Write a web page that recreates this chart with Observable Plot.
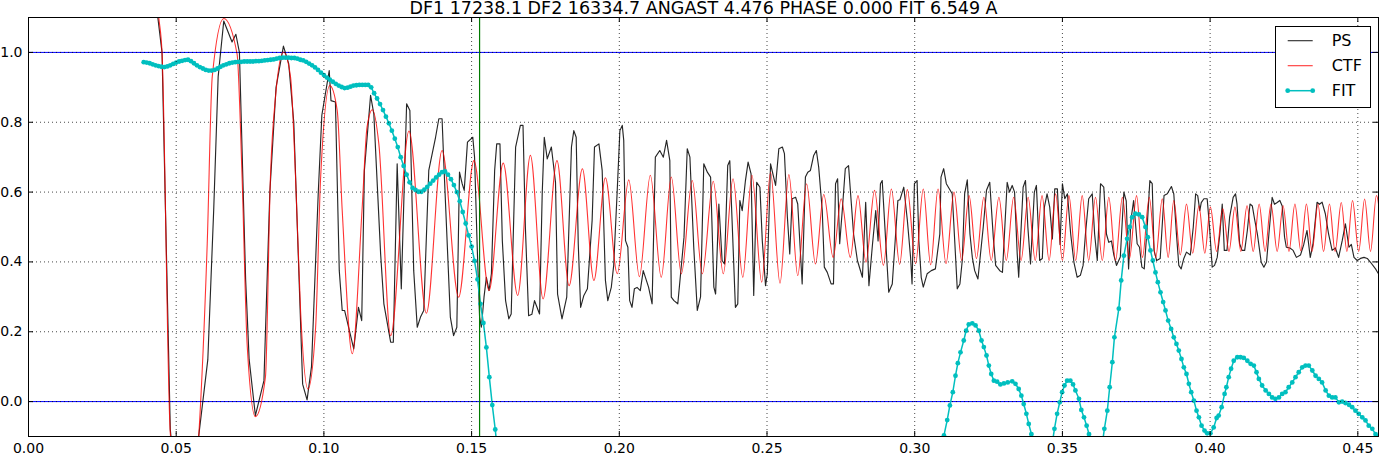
<!DOCTYPE html>
<html><head><meta charset="utf-8">
<script src="https://cdn.jsdelivr.net/npm/d3@7"></script>
<script src="https://cdn.jsdelivr.net/npm/@observablehq/plot@0.6"></script>
<style>
body{margin:0;background:#fff;}
#wrap{position:relative;width:1380px;height:456px;font-family:"DejaVu Sans",sans-serif;background:#fff;}
</style></head><body><div id="wrap"></div>
<script>
const title = "DF1 17238.1 DF2 16334.7 ANGAST 4.476 PHASE 0.000 FIT 6.549 A";
const seriesNames = ["PS", "CTF", "FIT"];
const xTicks = [0, 0.05, 0.10, 0.15, 0.20, 0.25, 0.30, 0.35, 0.40, 0.45];
const yTicks = [0, 0.2, 0.4, 0.6, 0.8, 1.0];
const refLines = [0, 1];
const resLimit = [0.1527];

const psSeries = [
[0.0389,1.50],[0.0435,1.12],[0.0452,1.00],[0.0480,-0.08],[0.0487,-0.14],[0.0532,-0.40],[0.0568,-0.16],[0.0576,-0.10],
[0.0607,0.12],[0.0627,0.55],[0.0642,0.93],[0.0661,1.09],[0.0689,1.03],[0.0702,1.052],[0.0714,1.00],[0.0735,0.35],
[0.0747,0.12],[0.0768,-0.04],[0.0797,0.06],[0.0817,0.60],[0.0838,0.90],[0.0863,1.018],[0.0881,0.967],[0.0898,0.80],
[0.0918,0.30],[0.0928,0.05],[0.0943,0.005],[0.0958,0.10],[0.0981,0.60],[0.0993,0.82],[0.1018,0.948],[0.1024,0.862],
[0.1039,0.858],[0.1052,0.375],[0.1062,0.261],[0.1070,0.261],[0.1101,0.151],[0.1117,0.27],[0.1128,0.232],[0.1137,0.662],
[0.1158,0.877],[0.1169,0.824],[0.1192,0.423],[0.1203,0.28],[0.1226,0.17],[0.1235,0.17],[0.1248,0.681],[0.1262,0.323],
[0.1280,0.853],[0.1291,0.834],[0.1304,0.375],[0.1316,0.213],[0.1327,0.242],[0.1338,0.261],[0.1355,0.662],[0.1378,0.757],
[0.1389,0.81],[0.1400,0.81],[0.1406,0.681],[0.1428,0.242],[0.1439,0.189],[0.1450,0.213],[0.1459,0.657],[0.1468,0.624],
[0.1475,0.605],[0.1486,0.743],[0.1504,0.757],[0.1510,0.70],[0.1519,0.442],[0.1527,0.242],[0.1533,0.213],[0.1542,0.299],
[0.1550,0.356],[0.1559,0.318],[0.1567,0.366],[0.1578,0.662],[0.1585,0.738],[0.1596,0.738],[0.1604,0.461],[0.1615,0.289],
[0.1626,0.237],[0.1634,0.251],[0.1649,0.729],[0.1665,0.791],[0.1674,0.791],[0.1682,0.50],[0.1693,0.246],[0.1704,0.25],
[0.1713,0.289],[0.1730,0.251],[0.1739,0.595],[0.1746,0.757],[0.1756,0.695],[0.1770,0.729],[0.1784,0.628],[0.1791,0.308],
[0.1806,0.237],[0.1822,0.299],[0.1838,0.729],[0.1846,0.776],[0.1854,0.757],[0.1861,0.452],[0.1869,0.27],[0.1880,0.304],
[0.1892,0.323],[0.1908,0.519],[0.1916,0.729],[0.1931,0.738],[0.1942,0.662],[0.1953,0.347],[0.1961,0.289],[0.1973,0.328],
[0.1981,0.39],[0.1993,0.605],[0.2002,0.776],[0.2010,0.791],[0.2015,0.748],[0.2021,0.461],[0.2029,0.442],[0.2035,0.289],
[0.2043,0.27],[0.2051,0.323],[0.2060,0.327],[0.2071,0.318],[0.2081,0.375],[0.2099,0.328],[0.2111,0.28],[0.2122,0.70],
[0.2137,0.719],[0.2149,0.70],[0.2160,0.748],[0.2171,0.69],[0.2176,0.299],[0.2185,0.289],[0.2198,0.28],[0.2219,0.471],
[0.2230,0.724],[0.2239,0.70],[0.2252,0.442],[0.2264,0.261],[0.2275,0.30],[0.2286,0.681],[0.2298,0.657],[0.2309,0.643],
[0.2320,0.328],[0.2326,0.308],[0.2337,0.566],[0.2348,0.404],[0.2356,0.394],[0.2367,0.676],[0.2374,0.69],[0.2393,0.27],
[0.2401,0.28],[0.2408,0.576],[0.2416,0.547],[0.2427,0.633],[0.2436,0.686],[0.2446,0.652],[0.2455,0.304],[0.2465,0.628],
[0.2476,0.614],[0.2484,0.461],[0.2495,0.332],[0.2501,0.366],[0.2512,0.681],[0.2529,0.619],[0.2540,0.724],[0.2552,0.729],
[0.2559,0.71],[0.2569,0.528],[0.2577,0.423],[0.2585,0.581],[0.2597,0.585],[0.2604,0.566],[0.2619,0.337],[0.2630,0.643],
[0.2638,0.657],[0.2647,0.662],[0.2658,0.705],[0.2667,0.719],[0.2675,0.671],[0.2687,0.547],[0.2694,0.385],[0.2704,0.37],
[0.2717,0.337],[0.2725,0.337],[0.2732,0.624],[0.2739,0.638],[0.2746,0.452],[0.2755,0.55],[0.2765,0.667],[0.2776,0.676],
[0.2793,0.48],[0.2806,0.404],[0.2823,0.356],[0.2834,0.571],[0.2845,0.332],[0.2857,0.45],[0.2868,0.547],[0.2876,0.46],
[0.2884,0.624],[0.2890,0.633],[0.2901,0.471],[0.2912,0.313],[0.2924,0.337],[0.2933,0.45],[0.2943,0.576],[0.2950,0.578],
[0.2963,0.614],[0.2975,0.52],[0.2986,0.413],[0.2991,0.337],[0.2999,0.624],[0.3008,0.633],[0.3014,0.461],[0.3022,0.356],
[0.3029,0.328],[0.3042,0.366],[0.3056,0.375],[0.3070,0.38],[0.3085,0.48],[0.3089,0.643],[0.3098,0.667],[0.3107,0.624],
[0.3127,0.595],[0.3144,0.323],[0.3153,0.337],[0.3161,0.404],[0.3169,0.595],[0.3178,0.635],[0.3187,0.48],[0.3195,0.413],
[0.3203,0.375],[0.3214,0.351],[0.3232,0.50],[0.3243,0.605],[0.3254,0.628],[0.3266,0.471],[0.3274,0.39],[0.3288,0.375],
[0.3297,0.37],[0.3313,0.628],[0.3321,0.60],[0.3330,0.619],[0.3338,0.60],[0.3347,0.423],[0.3352,0.356],[0.3367,0.614],
[0.3375,0.633],[0.3383,0.50],[0.3392,0.394],[0.3405,0.60],[0.3412,0.619],[0.3423,0.404],[0.3432,0.41],[0.3439,0.557],
[0.3448,0.595],[0.3457,0.557],[0.3466,0.466],[0.3474,0.609],[0.3483,0.609],[0.3492,0.45],[0.3500,0.624],[0.3508,0.581],
[0.3517,0.595],[0.3528,0.48],[0.3539,0.399],[0.3550,0.356],[0.3561,0.362],[0.3570,0.39],[0.3578,0.48],[0.3589,0.581],
[0.3601,0.595],[0.3609,0.48],[0.3618,0.404],[0.3629,0.624],[0.3640,0.614],[0.3649,0.48],[0.3657,0.456],[0.3666,0.46],
[0.3674,0.42],[0.3683,0.39],[0.3696,0.414],[0.3708,0.60],[0.3716,0.575],[0.3724,0.38],[0.3732,0.52],[0.3741,0.576],
[0.3753,0.452],[0.3761,0.442],[0.3769,0.385],[0.3777,0.38],[0.3787,0.50],[0.3796,0.633],[0.3804,0.624],[0.3810,0.433],
[0.3819,0.404],[0.3831,0.41],[0.3844,0.59],[0.3855,0.595],[0.3869,0.616],[0.3877,0.595],[0.3886,0.48],[0.3894,0.39],
[0.3902,0.38],[0.3911,0.41],[0.3920,0.428],[0.3933,0.42],[0.3943,0.50],[0.3951,0.595],[0.3958,0.59],[0.3965,0.547],
[0.3970,0.57],[0.3979,0.581],[0.3990,0.581],[0.3998,0.50],[0.4007,0.385],[0.4015,0.39],[0.4024,0.413],[0.4033,0.48],
[0.4041,0.566],[0.4048,0.433],[0.4057,0.433],[0.4066,0.528],[0.4078,0.585],[0.4086,0.595],[0.4091,0.566],[0.4100,0.452],
[0.4108,0.433],[0.4117,0.433],[0.4126,0.49],[0.4135,0.566],[0.4143,0.56],[0.4151,0.52],[0.4160,0.48],[0.4173,0.399],
[0.4182,0.385],[0.4191,0.40],[0.4199,0.48],[0.4210,0.585],[0.4218,0.565],[0.4227,0.57],[0.4236,0.576],[0.4244,0.56],
[0.4252,0.471],[0.4258,0.442],[0.4270,0.44],[0.4281,0.433],[0.4292,0.413],[0.4306,0.42],[0.4317,0.45],[0.4328,0.49],
[0.4339,0.413],[0.4348,0.45],[0.4362,0.571],[0.4370,0.565],[0.4379,0.571],[0.4390,0.538],[0.4401,0.48],[0.4413,0.433],
[0.4424,0.44],[0.4435,0.413],[0.4447,0.46],[0.4458,0.509],[0.4470,0.442],[0.4478,0.45],[0.4487,0.413],[0.4498,0.404],
[0.4509,0.41],[0.4521,0.413],[0.4532,0.41],[0.4543,0.399],[0.4560,0.38],[0.4577,0.356]
];

const ctfSeries = [
[0.0389,1.40],[0.0441,1.10],[0.0452,1.00],[0.0480,-0.09],[0.0534,-0.40],[0.0577,-0.09],[0.0605,0.452],[0.0622,0.93],
[0.0661,1.097],[0.0706,0.996],[0.0723,0.643],[0.0740,0.166],[0.0768,-0.043],[0.0802,0.07],[0.0819,0.643],[0.0837,0.88],
[0.0863,1.001],[0.0887,0.93],[0.0904,0.643],[0.0921,0.26],[0.0946,0.036],[0.0972,0.213],[0.0989,0.643],[0.1020,0.905],
[0.1045,0.834],[0.1062,0.547],[0.1096,0.137],[0.1129,0.547],[0.1146,0.786],[0.1164,0.836],[0.1186,0.738],[0.1226,0.189],
[0.1288,0.775],[0.1347,0.253],[0.1400,0.719],[0.1456,0.299],[0.1508,0.69],[0.1559,0.318],[0.1607,0.683],[0.1656,0.304],
[0.1699,0.705],[0.1742,0.294],[0.1789,0.69],[0.1830,0.332],[0.1875,0.667],[0.1914,0.347],[0.1953,0.641],[0.1993,0.366],
[0.2032,0.635],[0.2068,0.358],[0.2105,0.648],[0.2142,0.356],[0.2176,0.643],[0.2210,0.366],[0.2247,0.633],[0.2281,0.366],
[0.2318,0.631],[0.2352,0.366],[0.2385,0.638],[0.2418,0.356],[0.2449,0.648],[0.2482,0.342],[0.2512,0.657],[0.2544,0.339],
[0.2574,0.65],[0.2604,0.361],[0.2634,0.624],[0.2664,0.394],[0.2692,0.593],[0.2724,0.413],[0.2751,0.581],[0.2782,0.413],
[0.2808,0.59],[0.2835,0.399],[0.2864,0.605],[0.2894,0.39],[0.2921,0.609],[0.2949,0.393],[0.2975,0.607],[0.3003,0.395],
[0.3029,0.609],[0.3054,0.392],[0.3079,0.609],[0.3106,0.395],[0.3133,0.60],[0.3159,0.404],[0.3184,0.59],[0.3209,0.41],
[0.3234,0.585],[0.3259,0.404],[0.3285,0.585],[0.3310,0.404],[0.3335,0.585],[0.3360,0.404],[0.3384,0.585],[0.3408,0.404],
[0.3431,0.59],[0.3455,0.404],[0.3477,0.595],[0.3500,0.404],[0.3522,0.59],[0.3545,0.404],[0.3567,0.59],[0.3589,0.404],
[0.3612,0.585],[0.3635,0.404],[0.3657,0.585],[0.3680,0.404],[0.3703,0.585],[0.3727,0.41],[0.3751,0.59],[0.3771,0.413],
[0.3794,0.585],[0.3816,0.413],[0.3838,0.581],[0.3858,0.413],[0.3877,0.576],[0.3899,0.42],[0.3920,0.566],[0.3941,0.425],
[0.3962,0.561],[0.3982,0.425],[0.4001,0.557],[0.4022,0.43],[0.4043,0.552],[0.4064,0.43],[0.4084,0.557],[0.4104,0.43],
[0.4125,0.561],[0.4146,0.43],[0.4166,0.566],[0.4186,0.43],[0.4206,0.566],[0.4227,0.43],[0.4247,0.561],[0.4267,0.43],
[0.4287,0.566],[0.4307,0.432],[0.4326,0.566],[0.4345,0.43],[0.4365,0.566],[0.4384,0.43],[0.4404,0.566],[0.4423,0.43],
[0.4444,0.57],[0.4463,0.43],[0.4482,0.576],[0.4503,0.43],[0.4523,0.58],[0.4543,0.43],[0.4563,0.59],[0.4584,0.43]
];

const fitLow = [
[0.039,0.972],[0.040,0.971],[0.041,0.969],[0.042,0.966],[0.043,0.963],[0.044,0.961],[0.045,0.959],[0.046,0.958],
[0.047,0.960],[0.048,0.963],[0.049,0.967],[0.050,0.971],[0.051,0.974],[0.052,0.976],[0.053,0.978],[0.054,0.979],
[0.055,0.975],[0.056,0.969],[0.057,0.963],[0.058,0.958],[0.059,0.954],[0.060,0.950],[0.061,0.948],[0.062,0.948],
[0.063,0.950],[0.064,0.954],[0.065,0.959],[0.066,0.963],[0.067,0.966],[0.068,0.969],[0.069,0.971],[0.070,0.972],
[0.071,0.973],[0.072,0.973],[0.073,0.974],[0.074,0.974],[0.075,0.974],[0.076,0.974],[0.077,0.975],[0.078,0.975],
[0.079,0.976],[0.080,0.977],[0.081,0.978],[0.082,0.979],[0.083,0.980],[0.084,0.982],[0.085,0.984],[0.086,0.985],
[0.087,0.985],[0.088,0.985],[0.089,0.984],[0.090,0.984],[0.091,0.982],[0.092,0.979],[0.093,0.977],[0.094,0.973],
[0.095,0.968],[0.096,0.963],[0.097,0.957],[0.098,0.950],[0.099,0.942],[0.100,0.935],[0.101,0.928],[0.102,0.922],
[0.103,0.916],[0.104,0.910],[0.105,0.905],[0.106,0.901],[0.107,0.898],[0.108,0.899],[0.109,0.902],[0.110,0.905],
[0.111,0.906],[0.112,0.907],[0.113,0.907],[0.114,0.907],[0.115,0.907],[0.116,0.900],[0.117,0.883],[0.118,0.868],
[0.119,0.852],[0.120,0.835],[0.121,0.816],[0.122,0.797],[0.123,0.776],[0.124,0.753],[0.125,0.729],[0.126,0.700],
[0.127,0.675],[0.128,0.650],[0.129,0.628],[0.130,0.612],[0.131,0.606],[0.132,0.601],[0.133,0.601],[0.134,0.607],
[0.135,0.615],[0.136,0.624],[0.137,0.633],[0.138,0.642],[0.139,0.650],[0.140,0.657],[0.141,0.659],[0.142,0.650],
[0.143,0.637],[0.144,0.620],[0.145,0.600],[0.146,0.574],[0.147,0.543],[0.148,0.510],[0.149,0.476],[0.150,0.444],
[0.151,0.403],[0.152,0.350],[0.153,0.280],[0.154,0.225],[0.155,0.155],[0.156,0.070],[0.157,-0.010],[0.158,-0.080],
[0.159,-0.160]
];

const fitHigh = [
[0.3090,-0.14],[0.3099,-0.097],[0.3110,-0.053],[0.3119,-0.011],[0.3129,0.027],[0.3138,0.074],[0.3146,0.11],[0.3155,0.141],
[0.3166,0.175],[0.3174,0.203],[0.3183,0.221],[0.3195,0.224],[0.3206,0.218],[0.3217,0.203],[0.3226,0.175],[0.3234,0.156],
[0.3243,0.132],[0.3251,0.103],[0.3259,0.079],[0.3268,0.06],[0.3279,0.057],[0.3290,0.049],[0.3302,0.052],[0.3315,0.055],
[0.3330,0.058],[0.3341,0.051],[0.3352,0.036],[0.3361,0.017],[0.3369,-0.007],[0.3378,-0.035],[0.3386,-0.064],[0.3395,-0.093],
[0.3405,-0.14],[0.3462,-0.14],
[0.3473,-0.078],[0.3482,-0.035],[0.3491,-0.002],[0.3499,0.027],[0.3507,0.046],[0.3516,0.06],[0.3527,0.06],[0.3536,0.049],
[0.3544,0.032],[0.3556,0.008],[0.3564,-0.024],[0.3573,-0.045],[0.3582,-0.069],[0.3590,-0.093],
[0.3600,-0.14],[0.3632,-0.14],
[0.3642,-0.078],[0.3652,-0.026],[0.3660,0.041],[0.3669,0.113],[0.3676,0.184],[0.3691,0.266],[0.3699,0.347],[0.3708,0.418],
[0.3719,0.466],[0.3728,0.50],[0.3736,0.528],[0.3747,0.538],[0.3759,0.536],[0.3770,0.528],[0.3781,0.50],[0.3789,0.471],
[0.3798,0.433],[0.3806,0.404],[0.3815,0.37],[0.3823,0.342],[0.3832,0.313],[0.3841,0.285],[0.3849,0.261],[0.3858,0.232],
[0.3868,0.208],[0.3877,0.184],[0.3886,0.165],[0.3894,0.146],[0.3903,0.122],[0.3911,0.098],[0.3920,0.079],[0.3928,0.051],
[0.3936,0.027],[0.3945,0.003],[0.3954,-0.026],[0.3962,-0.045],[0.3971,-0.069],[0.3981,-0.083],[0.3990,-0.091],[0.4001,-0.091],
[0.4012,-0.074],[0.4022,-0.047],[0.4029,-0.04],[0.4039,-0.016],[0.4049,0.022],[0.4055,0.041],[0.4063,0.07],[0.4071,0.094],
[0.4080,0.117],[0.4092,0.127],[0.4103,0.127],[0.4114,0.125],[0.4126,0.117],[0.4137,0.108],[0.4148,0.103],[0.4157,0.084],
[0.4165,0.065],[0.4176,0.046],[0.4188,0.032],[0.4199,0.022],[0.4210,0.012],[0.4221,0.008],[0.4233,0.012],[0.4244,0.022],
[0.4255,0.027],[0.4266,0.041],[0.4278,0.055],[0.4289,0.07],[0.4300,0.084],[0.4312,0.098],[0.4323,0.103],[0.4334,0.103],
[0.4346,0.089],[0.4357,0.074],[0.4368,0.065],[0.4379,0.055],[0.4391,0.032],[0.4402,0.017],[0.4413,0.012],[0.4424,0.012],
[0.4436,-0.002],[0.4447,0.0],[0.4458,-0.004],[0.4470,-0.009],[0.4481,-0.016],[0.4492,-0.026],[0.4503,-0.035],[0.4515,-0.045],
[0.4526,-0.054],[0.4537,-0.069],[0.4549,-0.078],[0.4560,-0.093],[0.4571,-0.10],[0.4582,-0.12]
];

const W = 1380, H = 456, mL = 28, mR = 2, mT = 17, mB = 20;
const fh = H - mT - mB, fw = W - mL - mR;
const psColor = "#000000", ctfColor = "#ff0000", fitColor = "#00bfbf";
const X = d => d[0], Y = d => d[1];

const chart = Plot.plot({
  width: W, height: H,
  marginLeft: mL, marginRight: mR, marginTop: mT, marginBottom: mB,
  style: {fontFamily: "DejaVu Sans", fontSize: "14px", background: "white", color: "black", overflow: "visible"},
  x: {domain: [0, 0.457]},
  y: {domain: [-0.1, 1.1]},
  marks: [
    Plot.ruleY(refLines, {y: d => d, stroke: "#0000ff", strokeWidth: 1}),
    Plot.line(psSeries, {x: X, y: Y, stroke: psColor, strokeOpacity: 0.85, strokeWidth: 1.15, clip: true}),
    Plot.line(ctfSeries, {x: X, y: Y, stroke: ctfColor, strokeOpacity: 0.8, strokeWidth: 1.1, curve: "monotone-x", clip: true}),
    Plot.line(fitLow, {x: X, y: Y, stroke: fitColor, strokeWidth: 1.5, clip: true}),
    Plot.dot(fitLow, {x: X, y: Y, r: 2.4, fill: fitColor, clip: true}),
    Plot.line(fitHigh, {x: X, y: Y, stroke: fitColor, strokeWidth: 1.5, clip: true}),
    Plot.dot(fitHigh, {x: X, y: Y, r: 2.4, fill: fitColor, clip: true}),
    Plot.ruleX(resLimit, {x: d => d, stroke: "#007a00", strokeWidth: 1.2}),
    Plot.gridX(xTicks, {stroke: "black", strokeOpacity: 0.9, strokeWidth: 0.8, strokeDasharray: "1,3"}),
    Plot.gridY(yTicks, {stroke: "black", strokeOpacity: 0.9, strokeWidth: 0.8, strokeDasharray: "1,3"}),
    Plot.tickX(xTicks, {x: d => d, insetTop: fh - 5, stroke: "black"}),
    Plot.tickX(xTicks, {x: d => d, insetBottom: fh - 5, stroke: "black"}),
    Plot.tickY(yTicks, {y: d => d, insetRight: fw - 5, stroke: "black"}),
    Plot.tickY(yTicks, {y: d => d, insetLeft: fw - 5, stroke: "black"}),
    Plot.axisX(xTicks, {tickSize: 0, tickPadding: 7, tickFormat: d3.format(".2f"), fontSize: 14}),
    Plot.axisY(yTicks, {tickSize: 0, tickPadding: 6, tickFormat: d3.format(".1f"), fontSize: 14}),
    Plot.frame({stroke: "black", strokeWidth: 1}),
    Plot.text([title], {text: d => d, frameAnchor: "top", dy: -3.7, lineAnchor: "bottom", fontSize: 17.5, fill: "black"})
  ]
});
const wrap = document.getElementById("wrap");
wrap.appendChild(chart);

// legend
const legColors = [psColor, ctfColor, fitColor];
const legOpacity = [0.85, 0.8, 1];
const leg = d3.create("svg")
  .attr("width", 96).attr("height", 83)
  .style("position", "absolute").style("left", "1275px").style("top", "26px")
  .style("font-family", "DejaVu Sans");
leg.append("rect").attr("x", 0.5).attr("y", 0.5).attr("width", 95).attr("height", 81)
  .attr("fill", "white").attr("stroke", "black").attr("stroke-width", 1);
seriesNames.forEach((name, i) => {
  const yy = 14.7 + i * 25;
  leg.append("line").attr("x1", 12.7).attr("x2", 37.7).attr("y1", yy).attr("y2", yy)
    .attr("stroke", legColors[i]).attr("stroke-opacity", legOpacity[i]).attr("stroke-width", i === 2 ? 1.5 : 1.1);
  if (i === 2) {
    [12.7, 37.7].forEach(cx => leg.append("circle").attr("cx", cx).attr("cy", yy).attr("r", 2.4).attr("fill", fitColor));
  }
  leg.append("text").attr("x", 56.7).attr("y", yy).attr("dy", "0.35em")
    .attr("font-size", 16).attr("fill", "black").text(name);
});
wrap.appendChild(leg.node());
</script>
</body></html>
